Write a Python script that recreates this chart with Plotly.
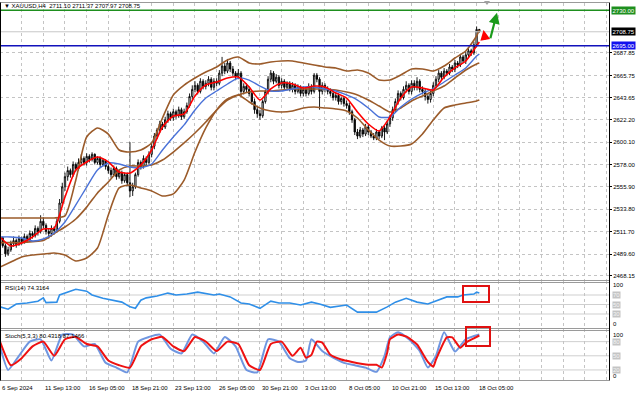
import plotly.graph_objects as go

# ---------------- data ----------------
closes = [2506, 2498, 2490, 2494, 2500, 2503, 2499, 2505,
          2502, 2507, 2504, 2510, 2508, 2515, 2512, 2522,
          2518, 2512, 2510, 2515, 2513, 2522, 2540, 2556,
          2566, 2572, 2568, 2578, 2574, 2580, 2584, 2580,
          2586, 2583, 2588, 2580, 2584, 2578, 2582, 2576,
          2572, 2568, 2574, 2566, 2570, 2562, 2568, 2560,
          2552, 2556, 2568, 2580, 2576, 2584, 2580, 2588,
          2596, 2606, 2612, 2618, 2615, 2622, 2628, 2624,
          2630, 2626, 2632, 2625, 2630, 2636, 2645, 2652,
          2656, 2650, 2660, 2655, 2658, 2662, 2654, 2660,
          2658, 2668, 2675, 2670, 2678, 2672, 2668, 2665,
          2668, 2650, 2655, 2652, 2648, 2640, 2632, 2628,
          2626, 2640, 2650, 2662, 2668, 2660, 2664, 2656,
          2660, 2654, 2658, 2652, 2656, 2650, 2654, 2648,
          2652, 2648, 2655, 2650, 2666, 2662, 2650, 2656,
          2652, 2650, 2648, 2644, 2646, 2640, 2643, 2638,
          2636, 2630, 2622, 2610, 2606, 2612, 2608, 2615,
          2610, 2606, 2604, 2610, 2606, 2614, 2610, 2618,
          2624, 2632, 2640, 2648, 2644, 2652, 2656, 2650,
          2658, 2654, 2660, 2652, 2650, 2645, 2642, 2648,
          2656, 2662, 2668, 2664, 2670, 2668, 2674, 2672,
          2678, 2676, 2684, 2680, 2686, 2690, 2688, 2696,
          2711.10, 2708.75]
highs = [2510, 2507, 2500, 2497, 2503, 2507, 2505, 2508,
         2507, 2510, 2509, 2513, 2512, 2518, 2517, 2528,
         2526, 2520, 2515, 2518, 2517, 2525, 2544, 2560,
         2570, 2576, 2574, 2581, 2580, 2584, 2588, 2586,
         2589, 2588, 2590, 2589, 2586, 2586, 2584, 2583,
         2578, 2575, 2577, 2576, 2573, 2572, 2570, 2570,
         2600, 2560, 2570, 2583, 2582, 2587, 2586, 2591,
         2599, 2609, 2614, 2621, 2620, 2625, 2631, 2630,
         2633, 2632, 2635, 2634, 2633, 2639, 2648, 2656,
         2660, 2658, 2663, 2662, 2661, 2665, 2664, 2663,
         2663, 2671, 2684, 2678, 2682, 2680, 2675, 2670,
         2672, 2670, 2658, 2658, 2655, 2650, 2643, 2636,
         2632, 2642, 2652, 2665, 2671, 2670, 2667, 2666,
         2663, 2662, 2660, 2660, 2659, 2658, 2657, 2656,
         2655, 2654, 2658, 2657, 2668, 2668, 2664, 2659,
         2658, 2655, 2653, 2650, 2649, 2648, 2645, 2645,
         2641, 2639, 2632, 2624, 2613, 2615, 2614, 2618,
         2617, 2612, 2609, 2613, 2612, 2616, 2616, 2621,
         2627, 2635, 2643, 2651, 2650, 2655, 2660, 2658,
         2661, 2661, 2664, 2662, 2655, 2653, 2648, 2651,
         2659, 2665, 2671, 2670, 2673, 2672, 2677, 2676,
         2681, 2680, 2687, 2686, 2689, 2693, 2692, 2699,
         2714, 2711.37]
lows = [2502, 2496, 2487, 2488, 2492, 2497, 2496, 2498,
        2499, 2500, 2501, 2502, 2505, 2506, 2508, 2510,
        2515, 2509, 2505, 2507, 2509, 2511, 2520, 2537,
        2552, 2562, 2565, 2566, 2571, 2572, 2577, 2577,
        2577, 2580, 2581, 2578, 2578, 2575, 2576, 2573,
        2569, 2565, 2566, 2563, 2564, 2559, 2560, 2557,
        2546, 2547, 2554, 2566, 2573, 2574, 2577, 2578,
        2585, 2593, 2603, 2609, 2612, 2613, 2619, 2621,
        2621, 2623, 2624, 2622, 2623, 2628, 2634, 2642,
        2649, 2647, 2648, 2652, 2652, 2655, 2651, 2651,
        2655, 2656, 2665, 2667, 2668, 2669, 2665, 2661,
        2662, 2645, 2647, 2649, 2645, 2637, 2628, 2624,
        2622, 2624, 2638, 2647, 2659, 2657, 2658, 2653,
        2653, 2651, 2651, 2650, 2649, 2647, 2648, 2645,
        2645, 2645, 2646, 2647, 2648, 2659, 2632, 2647,
        2649, 2647, 2645, 2641, 2641, 2637, 2637, 2635,
        2633, 2627, 2619, 2607, 2603, 2604, 2605, 2606,
        2607, 2604, 2602, 2602, 2603, 2604, 2602, 2608,
        2615, 2621, 2629, 2637, 2641, 2642, 2649, 2647,
        2647, 2651, 2651, 2649, 2647, 2641, 2638, 2639,
        2645, 2653, 2659, 2661, 2662, 2665, 2666, 2669,
        2669, 2673, 2674, 2678, 2677, 2683, 2685, 2686,
        2694, 2707.97]
first_open = 2504

# indicator lines, read every 4 bars (+ last bar)
ma_fast = [2506.6, 2497.7, 2500.7, 2506.6, 2514.5, 2515.4, 2546, 2572.6, 2580.5, 2585.4,
           2580.5, 2570.6, 2569.6, 2577.5, 2592.3, 2615, 2625.8, 2627.8, 2645.5, 2656.3,
           2659.3, 2663.2, 2664.2, 2654.4, 2641.5, 2652.4, 2658.3, 2657.3, 2653.4, 2655.3,
           2654.4, 2648.4, 2643.5, 2629.7, 2617.9, 2611, 2624.8, 2643.5, 2654.4, 2653.4,
           2651.4, 2664.2, 2673.1, 2680, 2694.8, 2698.7]
ma_slow = [2506.6, 2506.6, 2505.6, 2502.6, 2504.6, 2510.5, 2521.4, 2538.1, 2555.8, 2572.6,
           2579.5, 2578.5, 2575.5, 2574.6, 2578.5, 2592.3, 2605.1, 2617, 2631.7, 2643.5,
           2650.4, 2657.3, 2663.2, 2661.2, 2655.3, 2650.4, 2650.4, 2652.4, 2654.4, 2654.4,
           2652.4, 2650.4, 2646.5, 2641.5, 2633.7, 2624.8, 2624.8, 2634.6, 2642.5, 2648.4,
           2652.4, 2659.3, 2666.2, 2673.1, 2684.9, 2686.9]
band_up = [2525.3, 2525.3, 2525.3, 2525.3, 2525.3, 2525.3, 2527.3, 2562.7, 2605.1, 2614,
           2608, 2592.3, 2590.3, 2592.3, 2599.2, 2623.8, 2646.5, 2656.3, 2663.2, 2669.1,
           2674.1, 2681, 2683.9, 2678, 2677, 2679, 2680, 2680, 2678, 2676,
           2674.1, 2673.1, 2670.1, 2671.1, 2668.1, 2661.2, 2661.2, 2666.2, 2672.1, 2672.1,
           2670.1, 2675, 2682.9, 2689.8, 2704.6, 2710.5]
band_mid = [2501, 2501, 2501, 2502, 2503, 2510, 2516.4, 2524.3, 2536, 2550,
            2560.8, 2572.6, 2576.5, 2576.5, 2577.5, 2582.4, 2590.3, 2599.2, 2609, 2619.9,
            2631.7, 2641.5, 2646.5, 2649.4, 2650.4, 2650.4, 2651.4, 2652.4, 2652.4, 2652.4,
            2652.4, 2651.4, 2649.4, 2646.5, 2641.5, 2635.6, 2629.7, 2633.7, 2640.6, 2645.5,
            2650.4, 2655.3, 2663.2, 2671.1, 2677, 2678]
band_lo = [2477, 2481.9, 2486.9, 2488.8, 2489.8, 2490.8, 2488.8, 2482.9, 2485.9, 2495.7,
           2528.3, 2554.9, 2557.8, 2554.9, 2551.9, 2547, 2549, 2562.7, 2590.3, 2614,
           2631.7, 2642.5, 2646.5, 2639.6, 2633.7, 2630.7, 2629.7, 2630.7, 2633.7, 2634.6,
           2633.7, 2632.7, 2630.7, 2623.8, 2612, 2602.1, 2596.2, 2596.2, 2598.2, 2608,
           2621.9, 2633.7, 2636.6, 2638.6, 2640.6, 2641.5]

rsi_idx = [0, 3, 6, 10, 14, 16, 17, 21, 22, 25, 28, 32, 34, 38, 42, 45, 48, 50, 52, 54,
           58, 62, 65, 69, 73, 75, 79, 81, 85, 89, 92, 96, 100, 103, 107, 111, 115, 118, 122, 128,
           132, 135, 139, 143, 146, 150, 154, 158, 160, 165, 169, 171, 175, 176, 177]
rsi_val = [45, 40, 51, 53, 57, 64, 54, 55, 70, 76, 82, 78, 70, 63, 59, 55, 45, 42, 59, 64,
           68, 74, 70, 72, 76, 74, 70, 72, 66, 53, 51, 42, 57, 53, 53, 49, 55, 51, 44, 49,
           34, 34, 34, 45, 55, 63, 55, 51, 55, 66, 66, 70, 72, 76, 74.3]

stk_idx = [0, 3, 7, 11, 15, 19, 23, 27, 31, 35, 39, 43, 47, 51, 55, 59, 63, 67, 71, 75,
           79, 83, 87, 91, 95, 99, 103, 107, 110, 113, 115, 119, 123, 127, 131, 135, 139, 142, 144, 147,
           151, 155, 158, 161, 164, 168, 172, 177]
stk_val = [70, 20, 50, 80, 85, 40, 95, 95, 70, 75, 35, 25, 15, 80, 90, 95, 65, 55, 95, 80,
           55, 90, 70, 20, 15, 85, 80, 45, 37, 40, 85, 60, 46, 35, 30, 25, 16, 50, 89, 100,
           85, 60, 25, 50, 100, 59, 85, 95]
std_idx = [0, 4, 8, 12, 16, 20, 24, 28, 32, 36, 40, 44, 48, 52, 56, 60, 64, 68, 72, 76,
           80, 84, 88, 92, 96, 100, 104, 108, 111, 113, 115, 117, 119, 122, 126, 130, 136, 139, 141, 143,
           144, 147, 150, 154, 158, 160, 161, 165, 167, 170, 172, 175, 177]
std_val = [80, 30, 45, 70, 80, 50, 85, 90, 75, 70, 40, 30, 25, 70, 85, 90, 70, 60, 90, 80,
           60, 80, 75, 30, 20, 75, 80, 50, 67, 46, 52, 80, 78, 52, 42, 37, 31, 31, 25, 57,
           85, 95, 91, 74, 37, 27, 42, 89, 89, 67, 78, 87, 93]

price_ticks = [2687.85, 2665.75, 2643.65, 2622.20, 2600.10, 2578.00, 2555.90,
               2533.80, 2511.70, 2489.60, 2468.15]
date_idx = [0, 16, 32, 48, 64, 80, 96, 112, 128, 144, 160, 176]
date_txt = ["6 Sep 2024", "11 Sep 13:00", "16 Sep 05:00", "18 Sep 21:00", "23 Sep 13:00",
            "26 Sep 05:00", "30 Sep 21:00", "3 Oct 13:00", "8 Oct 05:00", "10 Oct 21:00",
            "15 Oct 13:00", "18 Oct 05:00"]
level_target = 2730.00
level_support = 2695.00
last_price = 2708.75

# ---------------- geometry helpers ----------------
W, H = 640, 395
XR = 609  # right edge of plotting area (px)


def px(x):
    return x / W


def py(y):
    return 1 - y / H


FONT = "Liberation Sans"
GRID = "#c4c4c4"
n = len(closes)
bars = list(range(n))
opens = [first_open] + closes[:-1]
samp = list(range(0, n - 1, 4)) + [n - 1]

fig = go.Figure()

fig.add_trace(go.Candlestick(
    x=bars, open=opens, high=highs, low=lows, close=closes,
    xaxis="x3", yaxis="y3",
    increasing=dict(line=dict(color="#000000", width=0.9), fillcolor="#ffffff"),
    decreasing=dict(line=dict(color="#000000", width=0.9), fillcolor="#000000"),
    whiskerwidth=0, hoverinfo="skip", showlegend=False))

BROWN = "#9b5b2a"
for vals, col, w in [(band_up, BROWN, 1.6), (band_mid, BROWN, 1.6), (band_lo, BROWN, 1.6),
                     (ma_slow, "#4a72d8", 1.4), (ma_fast, "#ff0000", 1.6)]:
    fig.add_trace(go.Scatter(x=samp, y=vals, mode="lines", xaxis="x3", yaxis="y3",
                             line=dict(color=col, width=w, shape="spline", smoothing=0.6),
                             hoverinfo="skip", showlegend=False))

fig.add_trace(go.Scatter(x=rsi_idx, y=rsi_val, mode="lines", xaxis="x2", yaxis="y2",
                         line=dict(color="#2f8fe8", width=1.6), hoverinfo="skip", showlegend=False))
fig.add_trace(go.Scatter(x=stk_idx, y=stk_val, mode="lines", xaxis="x", yaxis="y",
                         line=dict(color="#6f96e0", width=2, shape="spline", smoothing=0.5),
                         hoverinfo="skip", showlegend=False))
fig.add_trace(go.Scatter(x=std_idx, y=std_val, mode="lines", xaxis="x", yaxis="y",
                         line=dict(color="#ee1111", width=2, shape="spline", smoothing=0.5),
                         hoverinfo="skip", showlegend=False))

xr = [0, XR / 2.708]
grid_x = list(range(0, 226, 8))
xcommon = dict(range=xr, domain=[0, px(XR)], showgrid=True, gridcolor=GRID, griddash="dot",
               gridwidth=1, tickvals=grid_x, showticklabels=False, ticks="", zeroline=False,
               showline=False, fixedrange=True)

fig.update_layout(
    width=W, height=H, margin=dict(l=0, r=0, t=0, b=0),
    paper_bgcolor="white", plot_bgcolor="white",
    font=dict(family=FONT, size=6, color="#000000"),
    xaxis=dict(**xcommon, anchor="y"),
    xaxis2=dict(**xcommon, anchor="y2", matches="x"),
    xaxis3=dict(**xcommon, anchor="y3", matches="x", rangeslider=dict(visible=False)),
    yaxis=dict(domain=[py(380), py(329)], range=[-1.3, 106.8], showgrid=False,
               showticklabels=False, zeroline=False, fixedrange=True),
    yaxis2=dict(domain=[py(328.25), py(280.75)], range=[0, 100], showgrid=False,
                showticklabels=False, zeroline=False, fixedrange=True),
    yaxis3=dict(domain=[py(280), py(3)], range=[2464.2, 2737.1], side="right",
                tickvals=price_ticks, ticktext=[f"{v:.2f}" for v in price_ticks],
                showgrid=True, gridcolor=GRID, griddash="dot", gridwidth=1,
                ticks="outside", ticklen=2, tickcolor="#000000",
                tickfont=dict(family=FONT, size=6, color="#000000"),
                zeroline=False, showline=False, fixedrange=True),
)

shapes = []
for lv in (70, 50, 30):
    shapes.append(dict(type="line", xref="x2", yref="y2", x0=xr[0], x1=xr[1], y0=lv, y1=lv,
                       line=dict(color="#cfcfcf", width=1), layer="below"))
for lv in (80, 50, 20):
    shapes.append(dict(type="line", xref="x", yref="y", x0=xr[0], x1=xr[1], y0=lv, y1=lv,
                       line=dict(color="#cfcfcf", width=1), layer="below"))
shapes.append(dict(type="line", xref="x3", yref="y3", x0=xr[0], x1=xr[1], y0=last_price, y1=last_price,
                   line=dict(color="#c8c8c8", width=1)))
shapes.append(dict(type="line", xref="x3", yref="y3", x0=xr[0], x1=xr[1], y0=level_target, y1=level_target,
                   line=dict(color="#1e8f1e", width=1.6)))
shapes.append(dict(type="line", xref="x3", yref="y3", x0=xr[0], x1=xr[1], y0=level_support, y1=level_support,
                   line=dict(color="#1111bb", width=1.6)))
for yy in (2.5, 280.5, 282.5, 328.5, 330.5, 380.5):
    shapes.append(dict(type="line", xref="paper", yref="paper", x0=0, x1=px(XR), y0=py(yy), y1=py(yy),
                       line=dict(color="#9a9a9a", width=1)))
shapes.append(dict(type="line", xref="paper", yref="paper", x0=px(XR + 0.5), x1=px(XR + 0.5),
                   y0=py(2.5), y1=py(380.5), line=dict(color="#000000", width=1)))
shapes.append(dict(type="line", xref="paper", yref="paper", x0=px(0.5), x1=px(0.5),
                   y0=py(2.5), y1=py(380.5), line=dict(color="#000000", width=1)))
shapes.append(dict(type="rect", xref="paper", yref="paper", x0=px(463), x1=px(489), y0=py(302), y1=py(286),
                   line=dict(color="#e01010", width=2)))
shapes.append(dict(type="rect", xref="paper", yref="paper", x0=px(466), x1=px(490), y0=py(346), y1=py(327),
                   line=dict(color="#e01010", width=2)))
shapes.append(dict(type="path", xref="paper", yref="paper",
                   path=f"M {px(484)} {py(1)} L {px(490)} {py(1)} L {px(487)} {py(5)} Z",
                   fillcolor="#a0a0a0", line=dict(width=0)))
fig.update_layout(shapes=shapes)

ann = []
ann.append(dict(text="▼ XAUUSD,H4  2711.10 2711.37 2707.97 2708.75", xref="paper", yref="paper",
                x=px(2), y=py(6.5), xanchor="left", yanchor="middle", showarrow=False,
                font=dict(size=6)))
ann.append(dict(text="RSI(14) 74.3164", xref="paper", yref="paper", x=px(3), y=py(287.5),
                xanchor="left", yanchor="middle", showarrow=False, font=dict(size=6)))
ann.append(dict(text="Stoch(5,3,3) 80.4318 87.1466", xref="paper", yref="paper", x=px(3), y=py(335.5),
                xanchor="left", yanchor="middle", showarrow=False, font=dict(size=6)))
for i, t in zip(date_idx, date_txt):
    ann.append(dict(text=t, xref="x", yref="paper", x=i, y=py(387.5), xanchor="left",
                    yanchor="middle", showarrow=False, font=dict(size=6)))
for val, bg in [(level_target, "#1e8f1e"), (last_price, "#000000"), (level_support, "#1111ee")]:
    ann.append(dict(text=f"{val:.2f}", xref="paper", yref="y3", x=px(XR + 1.5), y=val,
                    xanchor="left", yanchor="middle", showarrow=False, bgcolor=bg, borderpad=0.5,
                    font=dict(size=6, color="#ffffff")))
for txt, yy, box in [("100", 285, False), ("70", 295, True), ("50", 304.5, True), ("30", 314, True), ("0", 324, False),
                     ("100", 335, False), ("80", 342, True), ("50", 356, True), ("20", 370, True), ("0", 376, False)]:
    ann.append(dict(text=txt, xref="paper", yref="paper", x=px(XR + 3), y=py(yy), xanchor="left",
                    yanchor="middle", showarrow=False, bgcolor="#c4c4c4" if box else None, borderpad=0,
                    font=dict(size=6, color="#f4f4f4" if box else "#000000")))
ann.append(dict(x=497 / 2.708, y=2727.5, xref="x3", yref="y3", ax=-7, ay=27, axref="pixel", ayref="pixel",
                showarrow=True, arrowhead=2, arrowsize=1, arrowwidth=2.2, arrowcolor="#1a9a1a", text=""))
ann.append(dict(x=483.5 / 2.708, y=2710.5, xref="x3", yref="y3", ax=2, ay=11, axref="pixel", ayref="pixel",
                showarrow=True, arrowhead=2, arrowsize=1, arrowwidth=2, arrowcolor="#ff0000", text=""))
fig.update_layout(annotations=ann)

fig.write_html("out.html")
